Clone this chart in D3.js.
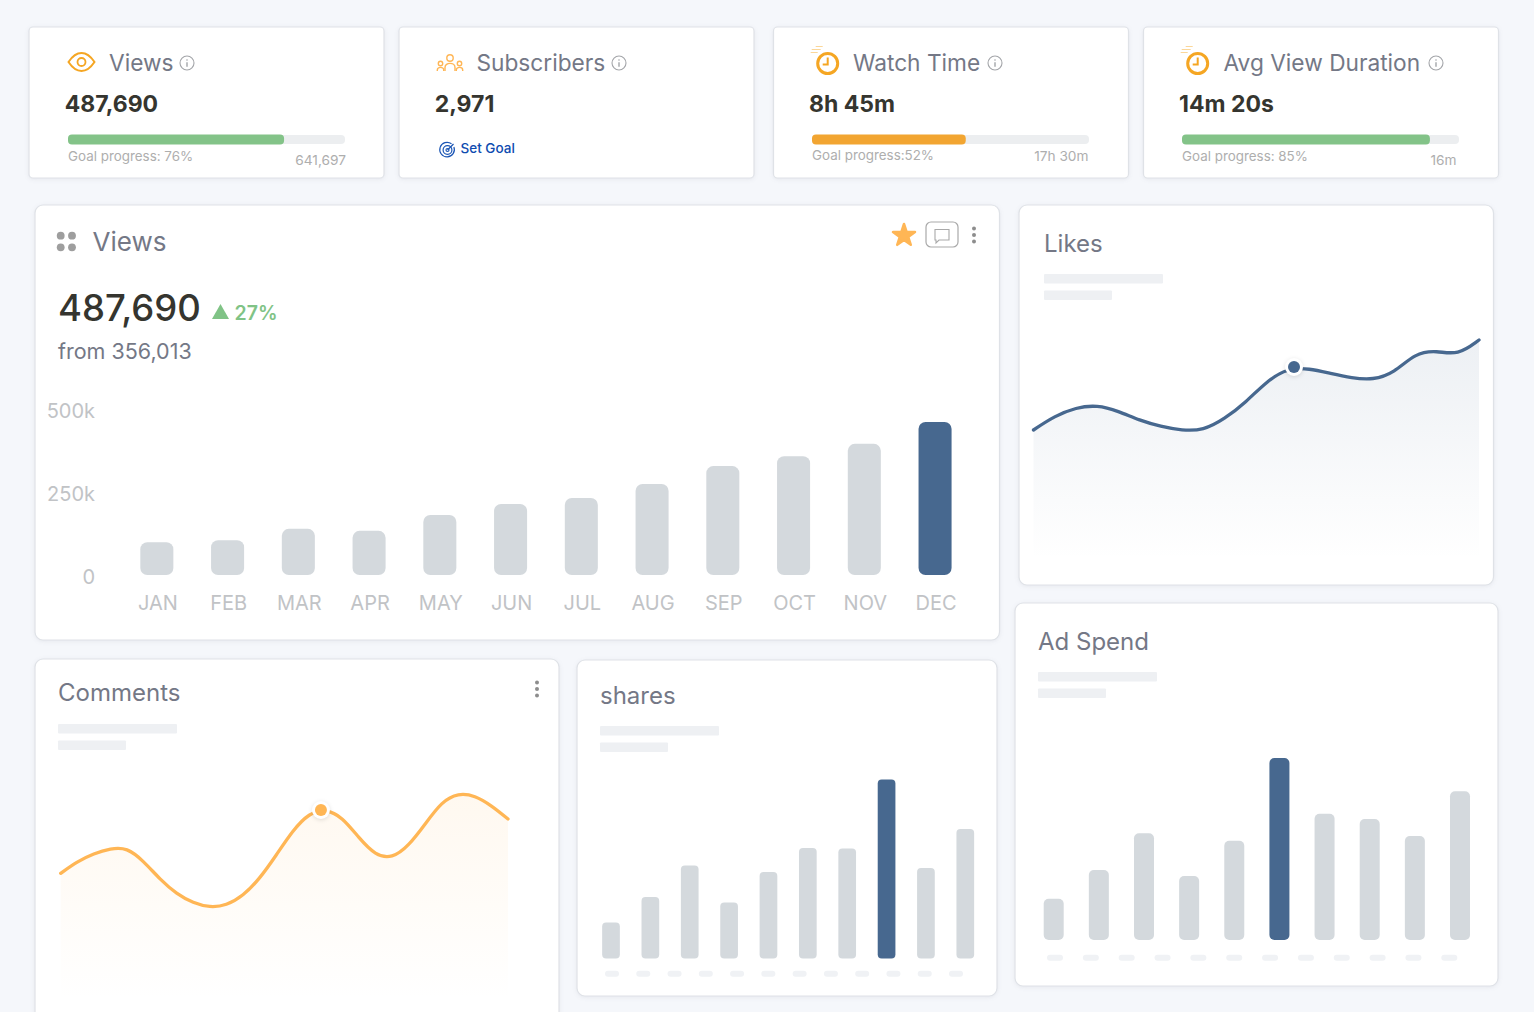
<!DOCTYPE html>
<html><head><meta charset="utf-8">
<script src="https://cdn.jsdelivr.net/npm/d3@7"></script>
<style>
html,body{margin:0;padding:0;background:#f5f7fb;overflow:hidden}
svg{display:block}
text{font-family:Inter,"Noto Sans",sans-serif}
.card{fill:#fff;stroke:#dfe2e7;stroke-width:1.2;filter:drop-shadow(0 1px 2px rgba(60,70,90,.08))}
</style></head><body>
<svg id="c" width="1534" height="1012"></svg>
<script>
// ---- data ----
const months=["JAN","FEB","MAR","APR","MAY","JUN","JUL","AUG","SEP","OCT","NOV","DEC"];
const viewsByMonth=[99,105,139,133,181,214,232,274,328,358,395,461];
const viewTicks=[0,250,500];
const likesValues=[130,144,152.5,155,149,139.5,133.5,129.5,129.5,141,157.5,179,192,191.5,186.5,182,180,187,207,209.5,204.5,220];
const likesMarker=[12.28,193];
const commentsValues=[126.7,138.5,146.5,151.5,152.5,139,120.5,106,97,92.5,94.5,104,121,144.5,169.5,187,191,183,162,144.5,141.5,154,176,198.5,207,204.5,194.5,181];
const commentsMarker=[15.71,190];
const sharesValues=[36,61.5,93,56,86.5,110.5,110,179,90.5,129.5];
const adSpendValues=[41.3,70,106.7,64,99.3,182,126.3,121,104,148.7];
const kpiTitles=["Views","Subscribers","Watch Time","Avg View Duration"];
const kpiValues=["487,690","2,971","8h 45m","14m 20s"];
const kpiGoalText=["Goal progress: 76%",null,"Goal progress:52%","Goal progress: 85%"];
const kpiGoalTarget=["641,697",null,"17h 30m","16m"];
const kpiFill=[0.78,null,0.555,0.895];
const kpiColor=["#83c388",null,"#f2a531","#83c388"];

const svg=d3.select("#c");
const FONT_T="#747886",BAR="#d4d9dd",HI="#47688f",ORANGE="#f5a623",AMBER="#ffb655";

function card(x,y,w,h,r){svg.append("rect").attr("class","card").attr("x",x).attr("y",y).attr("width",w).attr("height",h).attr("rx",r);}
function txt(s,x,y,size,fill,weight,anchor){return svg.append("text").attr("x",x).attr("y",y).attr("font-size",size).attr("fill",fill).attr("font-weight",weight||400).attr("text-anchor",anchor||"start").text(s);}
function rr(x,y,w,h,r,fill){return svg.append("rect").attr("x",x).attr("y",y).attr("width",w).attr("height",h).attr("rx",r).attr("fill",fill);}

// cards
[[29,27,355,151],[399,27,355,151],[773.5,27,355,151],[1143.5,27,355,151]].forEach(c=>card(c[0],c[1],c[2],c[3],4));
card(35,205,964.5,435,8);card(1019,205,474.5,380,8);card(1015,603,483,383,8);card(35,659,524,380,8);card(577,660,420,336,8);

// KPI layout
const kpiX=[109,476.5,853,1223.5],kpiNumX=[64.7,434.7,809,1179],kpiTrack=[68,null,812,1182],kpiRight=[346,null,1088.5,1456.5],kpiRightY=[165,null,161,165],kpiGoalY=[161,null,160,161];
const infoX=[187,619,995,1436];
kpiTitles.forEach((t,i)=>{
  txt(t,kpiX[i],71,22.7,FONT_T,400);
  const g=svg.append("g").attr("transform",`translate(${infoX[i]},63)`).attr("stroke","#a3a5a9").attr("fill","none");
  g.append("circle").attr("r",7).attr("stroke-width",1.1);
  g.append("path").attr("d","M0,-0.8V3.8").attr("stroke-width",1.4);
  g.append("circle").attr("cy",-3).attr("r",.8).attr("fill","#a3a5a9").attr("stroke","none");
  txt(kpiValues[i],kpiNumX[i],112,23,"#35352f",650);
  if(kpiFill[i]!=null){
    const sc=d3.scaleLinear().domain([0,1]).range([0,277]);
    rr(kpiTrack[i],135,sc(1),9,4,"#eceef0");
    rr(kpiTrack[i],134.5,sc(kpiFill[i]),10,4,kpiColor[i]);
    txt(kpiGoalText[i],kpiTrack[i],kpiGoalY[i],13.4,"#aeaeae");
    txt(kpiGoalTarget[i],kpiRight[i],kpiRightY[i],13.7,"#aeaeae",400,"end");
  }
});
// eye icon
(function(){const g=svg.append("g").attr("transform","translate(81.5,62)").attr("fill","none").attr("stroke",ORANGE).attr("stroke-width",2);
 g.append("path").attr("d","M-13,0C-8,-7.5 -4,-9 0,-9C4,-9 8,-7.5 13,0C8,7.5 4,9 0,9C-4,9 -8,7.5 -13,0Z");
 g.append("circle").attr("r",4).attr("stroke-width",1.8);})();
// people icon
(function(){const g=svg.append("g").attr("transform","translate(450,64)").attr("fill","none").attr("stroke",AMBER).attr("stroke-width",1.4);
 g.append("circle").attr("cy",-6).attr("r",3.2);
 g.append("path").attr("d","M-5,7V3.5C-5,-2 5,-2 5,3.5V7");
 [[-9.5,-0.5],[9.5,-0.5]].forEach(p=>{g.append("circle").attr("cx",p[0]).attr("cy",p[1]).attr("r",2.2);
  g.append("path").attr("d",`M${p[0]-3.2},7V6C${p[0]-3.2},2.5 ${p[0]+3.2},2.5 ${p[0]+3.2},6V7`);});})();
// clock icons
[827.7,1197.7].forEach(cx=>{const g=svg.append("g").attr("transform",`translate(${cx},63.5)`).attr("fill","none").attr("stroke",ORANGE);
 g.append("circle").attr("r",10).attr("stroke-width",3);
 g.append("path").attr("d","M0,-6V1H-5").attr("stroke-width",2);
 g.append("path").attr("d","M-16,-14H-7M-17,-11H-10M-12,-17H-5").attr("stroke","#fbd79a").attr("stroke-width",1.2);});
// set goal
(function(){const g=svg.append("g").attr("transform","translate(447.5,150)").attr("fill","none").attr("stroke","#1a55b5").attr("stroke-width",1.2);
 g.append("path").attr("d","M4,-6.2A7.3,7.3 0 1 0 6.4,-3");g.append("circle").attr("r",4.4);g.append("circle").attr("r",1.5);
 g.append("path").attr("d","M0,0L6,-6");txt("Set Goal",460.5,153,13.5,"#0e4bb0",450);})();

// Views main
(function(){const g=svg.append("g").attr("fill","#9e9e9e");
 [[60.7,235.7],[72,235.7],[60.7,247.3],[72,247.3]].forEach(p=>g.append("circle").attr("cx",p[0]).attr("cy",p[1]).attr("r",3.9));})();
txt("Views",92.5,250.5,26,FONT_T,400);
txt("487,690",58,321,36.5,"#35352f",500);
svg.append("path").attr("d","M212,319L220.5,304L229,319Z").attr("fill","#80c386");
txt("27%",234.5,320,19.5,"#80c386",600);
txt("from 356,013",58,358.5,21.5,FONT_T,400);
// top right icons
svg.append("path").attr("d",d3.symbol(d3.symbolStar,150)()).attr("transform","translate(904,235.5)").attr("fill",AMBER).attr("stroke",AMBER).attr("stroke-width",2.5).attr("stroke-linejoin","round");
svg.append("rect").attr("x",926).attr("y",222).attr("width",32).attr("height",25).attr("rx",5).attr("fill","none").attr("stroke","#a9a9a9").attr("stroke-width",1.2);
svg.append("path").attr("d","M935,229.5H949V240H939L936,243V240H935Z").attr("fill","none").attr("stroke","#a9a9a9").attr("stroke-width",1.1);
const dots=(x,y)=>[-6.5,0,6.5].forEach(d=>svg.append("circle").attr("cx",x).attr("cy",y+d).attr("r",2).attr("fill","#8d8d8d"));
dots(974,235);dots(537,689);

// main bars
const xMain=d3.scaleBand().domain(months).range([121.5,970.4]).paddingInner(.533).paddingOuter(.266);
const yMain=d3.scaleLinear().domain([0,500]).range([575,409]);
svg.append("g").selectAll("rect").data(viewsByMonth).join("rect")
 .attr("x",(d,i)=>xMain(months[i])).attr("width",xMain.bandwidth()).attr("y",d=>yMain(d)).attr("height",d=>yMain(0)-yMain(d)).attr("rx",7)
 .attr("fill",(d,i)=>i==11?HI:BAR);
const axY=svg.append("g").attr("transform","translate(95,2)").call(d3.axisLeft(yMain).tickValues(viewTicks).tickSize(0).tickPadding(0).tickFormat(d=>d?d+"k":"0"));
const axX=svg.append("g").attr("transform","translate(1,595.5)").call(d3.axisBottom(xMain).tickSize(0).tickPadding(0));
[axY,axX].forEach(a=>{a.select(".domain").remove();a.selectAll("text").attr("font-size",20).attr("fill","#c1c3c6").style("font-family",'Inter,"Noto Sans",sans-serif');});

// titles & placeholders
[["Likes",1044,252,274],["Comments",58,701,724],["shares",600,704,726],["Ad Spend",1038,650,672]].forEach(t=>{
 txt(t[0],t[1],t[2],24,FONT_T,400);
 rr(t[1],t[3],119,9.5,1,"#eef0f3");rr(t[1],t[3]+16.5,68,9.5,1,"#eef0f3");});

// line charts
function lineChart(id,vals,marker,x0,x1,yBase,yTop,maxV,color,op){
 const x=d3.scaleLinear().domain([0,vals.length-1]).range([x0,x1]);
 const y=d3.scaleLinear().domain([0,maxV]).range([yBase,yTop]);
 const grad=svg.append("defs").append("linearGradient").attr("id",id).attr("x1",0).attr("x2",0).attr("y1",0).attr("y2",1);
 grad.append("stop").attr("offset",0).attr("stop-color",color).attr("stop-opacity",op);
 grad.append("stop").attr("offset",1).attr("stop-color",color).attr("stop-opacity",0);
 const cur=d3.curveBasis;
 svg.append("path").datum(vals).attr("d",d3.area().x((d,i)=>x(i)).y0(yBase).y1(d=>y(d)).curve(cur)).attr("fill",`url(#${id})`);
 svg.append("path").datum(vals).attr("d",d3.line().x((d,i)=>x(i)).y(d=>y(d)).curve(cur)).attr("fill","none").attr("stroke",color).attr("stroke-width",3.3).attr("stroke-linecap","round");
 svg.append("circle").attr("cx",x(marker[0])).attr("cy",y(marker[1])).attr("r",9).attr("fill","#fff").style("filter","drop-shadow(0 1px 2px rgba(0,0,0,.12))");
 svg.append("circle").attr("cx",x(marker[0])).attr("cy",y(marker[1])).attr("r",6).attr("fill",color);
}
lineChart("gl",likesValues,likesMarker,1033.5,1479,560,340,220,HI,.1);
lineChart("gc",commentsValues,commentsMarker,60.7,508,1000,794,206,AMBER,.09);

// small bars
function smallBars(vals,hi,x0,x1,w,base,top,maxV,rad,dX0,dX1,dY,dW){
 const x=d3.scalePoint().domain(d3.range(vals.length)).range([x0,x1]);
 const y=d3.scaleLinear().domain([0,maxV]).range([base,top]);
 svg.append("g").selectAll("rect").data(vals).join("rect").attr("x",(d,i)=>x(i)-w/2).attr("width",w).attr("y",d=>y(d)).attr("height",d=>base-y(d)).attr("rx",rad).attr("fill",(d,i)=>i==hi?HI:BAR);
 const dx=d3.scalePoint().domain(months).range([dX0,dX1]);
 svg.append("g").selectAll("rect").data(months).join("rect").attr("x",d=>dx(d)-dW/2).attr("width",dW).attr("y",dY-3).attr("height",6).attr("rx",3).attr("fill","#f0f2f5");
}
smallBars(sharesValues,7,611,965.3,17.7,958.5,779.5,179,4,612,956,973.7,14);
smallBars(adSpendValues,5,1053.7,1460,20,940,758,182,5,1055,1449.3,957.7,16);
</script></body></html>
